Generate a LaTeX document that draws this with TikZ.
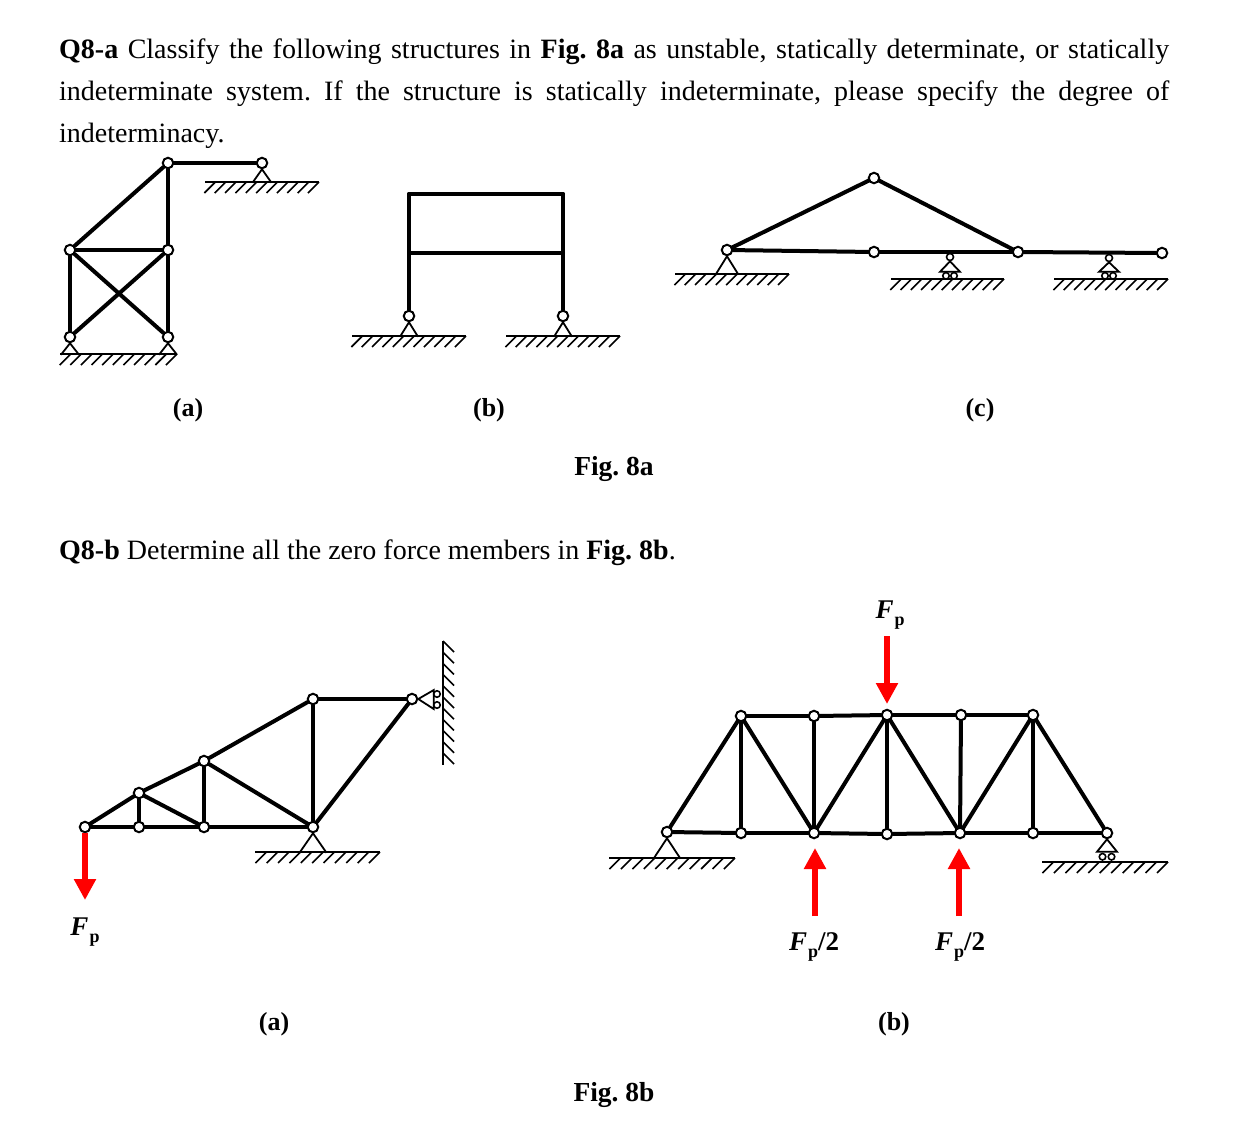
\documentclass[tikz,border=0pt]{standalone}
\usepackage{fontspec}
\setmainfont{Liberation Serif}
\usetikzlibrary{arrows.meta}
\newcommand{\Fp}{\textbf{\textit{F}}\hspace{1pt}\raisebox{-7pt}{\fontsize{18}{18}\selectfont\textbf{p}}}
\begin{document}
\begin{tikzpicture}[
    x=1pt, y=-1pt,
    member/.style = { line width=4pt },
    hinge/.style = { draw, circle, fill=white, line width=2pt, inner sep=0pt, minimum size=10.5pt },
    smallhinge/.style = { draw, circle, fill=white, line width=1.6pt, inner sep=0pt, minimum size=7pt },
    roller/.style = { draw, circle, fill=white, line width=1.6pt, inner sep=0pt, minimum size=6.5pt },
    support/.style = { line width=1.8pt },
    hatch/.style = { line width=1.6pt },
    load/.style = { draw=red, line width=6.5pt, -{Triangle[length=21pt,width=21pt,fill=red]} },
    caption/.style = { font=\fontsize{26}{30}\selectfont\bfseries\frenchspacing, inner sep=0pt },
    figcaption/.style = { font=\fontsize{27.5}{30}\selectfont\bfseries\frenchspacing, inner sep=0pt },
    forcelabel/.style = { font=\fontsize{27}{30}\selectfont, inner sep=0pt },
    question/.style = { font=\fontsize{28}{42}\selectfont\frenchspacing, inner sep=0pt, anchor=north west }
    ]
\useasboundingbox (0,0) rectangle (1246,1128);
%
\node[question, text width=1110pt, align=justify] (Qa) at (59,39) {\textbf{Q8-a} Classify the following structures in \textbf{Fig. 8a} as unstable, statically determinate, or \mbox{statically}\linebreak indeterminate system. If the structure is statically indeterminate, please specify the degree of\linebreak \mbox{indeterminacy.}};
\node[question] (Qb) at (59,540) {\textbf{Q8-b} Determine all the zero force members in \textbf{Fig. 8b}.};
\node[caption] (Aa) at (188,410) {(a)};
\node[caption] (Ab) at (489,410) {(b)};
\node[caption] (Ac) at (980,410) {(c)};
\node[figcaption] (FigA) at (614,469) {Fig. 8a};
\node[caption] (Ba) at (274,1024) {(a)};
\node[caption] (Bb) at (894,1024) {(b)};
\node[figcaption] (FigB) at (614,1095) {Fig. 8b};
% ground lines
\foreach \Left/\Right/\Level in {%
        60/177/354, 205/319/182, 352/466/336, 506/620/336,
        675/789/274, 891/1004/279, 1054/1168/279,
        255/380/852, 609/735/858, 1042/1168/862%
    }{
\draw[support] (\Left,\Level) -- (\Right,\Level);
\foreach \k in {1,...,11}
\draw[hatch] ({\Left+\k*(\Right-\Left)/11},\Level) -- ++(-11,11);
}
\draw[support] (443,641) -- (443,765);
\foreach \k in {0,...,10}
\draw[hatch] (443,641+\k*11.2) -- ++(11,11);
% Fig. 8a (a)
\node[hinge] (AT) at (168,163) {};
\node[hinge] (AR) at (262,163) {};
\node[hinge] (AL) at (70,250) {};
\node[hinge] (AM) at (168,250) {};
\node[hinge] (AB) at (70,337) {};
\node[hinge] (AC) at (168,337) {};
% Fig. 8a (b)
\coordinate (BTL) at (409,194);
\coordinate (BTR) at (563,194);
\coordinate (BML) at (409,253);
\coordinate (BMR) at (563,253);
\node[hinge] (BL) at (409,316) {};
\node[hinge] (BR) at (563,316) {};
% Fig. 8a (c)
\node[hinge] (CA) at (727,250) {};
\node[hinge] (CT) at (874,178) {};
\node[hinge] (CM) at (874,252) {};
\node[hinge] (CJ) at (1018,252) {};
\node[hinge] (CE) at (1162,253) {};
\node[smallhinge] (CP) at (950,257) {};
\node[smallhinge] (CQ) at (1109,258) {};
% Fig. 8b (a)
\node[hinge] (DA) at (85,827) {};
\node[hinge] (DB) at (139,827) {};
\node[hinge] (DC) at (204,827) {};
\node[hinge] (DD) at (313,827) {};
\node[hinge] (DE) at (139,793) {};
\node[hinge] (DF) at (204,761) {};
\node[hinge] (DG) at (313,699) {};
\node[hinge] (DH) at (412,699) {};
% Fig. 8b (b)
\node[hinge] (EL) at (667,832) {};
\node[hinge] (EB) at (741,833) {};
\node[hinge] (EC) at (814,833) {};
\node[hinge] (ED) at (887,834) {};
\node[hinge] (EE) at (960,833) {};
\node[hinge] (EF) at (1033,833) {};
\node[hinge] (ER) at (1107,833) {};
\node[hinge] (EP) at (741,716) {};
\node[hinge] (EQ) at (814,716) {};
\node[hinge] (ES) at (887,715) {};
\node[hinge] (EU) at (961,715) {};
\node[hinge] (EV) at (1033,715) {};
%
\foreach \Source/\Target in {%
        AL/AT, AT/AR, AT/AM, AL/AM, AL/AB, AM/AC, AL/AC, AM/AB,
        BTL/BTR, BML/BMR, BTL/BL, BTR/BR,
        CA/CT, CT/CJ, CA/CM, CM/CJ, CJ/CE,
        DA/DE, DE/DF, DF/DG, DG/DH, DA/DB, DB/DC, DC/DD,
        DE/DB, DF/DC, DG/DD, DE/DC, DF/DD, DH/DD,
        EL/EB, EB/EC, EC/ED, ED/EE, EE/EF, EF/ER,
        EP/EQ, EQ/ES, ES/EU, EU/EV,
        EL/EP, EP/EB, EP/EC, EQ/EC, ES/EC, ES/ED, ES/EE,
        EU/EE, EV/EE, EV/EF, EV/ER%
    }
\draw[member, line cap=round] (\Source) to (\Target);
% pin supports
\foreach \Pin/\Half/\Drop in {%
        AR/9.5/13.5, AB/9/11.5, AC/9/11.5, BL/9/14.5, BR/9/14.5,
        CA/11.5/18.5, DD/13.5/19.5, EL/13.5/20.5%
    }
\draw[support] (\Pin.south) ++(-\Half,\Drop) -- (\Pin.south) -- ++(\Half,\Drop);
% roller supports
\foreach \Pin/\Half/\Drop/\Gap/\Mid in {%
        CP.south/10/10.5/4/14.5, CQ.south/10/9.5/4/13.5, ER.south/10/12.5/4.5/17.5%
    }{
\draw[support] (\Pin) ++(-\Half,\Drop) -- (\Pin) -- ++(\Half,\Drop) -- cycle;
\path (\Pin) ++(-\Gap,\Mid) node[roller] {};
\path (\Pin) ++(\Gap,\Mid) node[roller] {};
}
\draw[support] (DH.east) ++(15.5,-9) -- (DH.east) -- ++(15.5,10) -- cycle;
\node[roller] (DHa) at (437,694) {};
\node[roller] (DHb) at (437,705) {};
% loads
\coordinate (DTip) at (85,900);
\coordinate (ETop) at (887,636);
\coordinate (ETip) at (887,704);
\coordinate (FBot) at (815,916);
\coordinate (FTip) at (815,848);
\coordinate (GBot) at (959,916);
\coordinate (GTip) at (959,848);
\foreach \Source/\Target in {%
        DA/DTip, ETop/ETip, FBot/FTip, GBot/GTip%
    }
\draw[load] (\Source) to (\Target);
%
\node[forcelabel] (LDa) at (85,932) {\Fp};
\node[forcelabel] (LEa) at (890,615) {\Fp};
\node[forcelabel] (LFa) at (814,947) {\Fp\textbf{/2}};
\node[forcelabel] (LGa) at (960,947) {\Fp\textbf{/2}};
\end{tikzpicture}
\end{document}
